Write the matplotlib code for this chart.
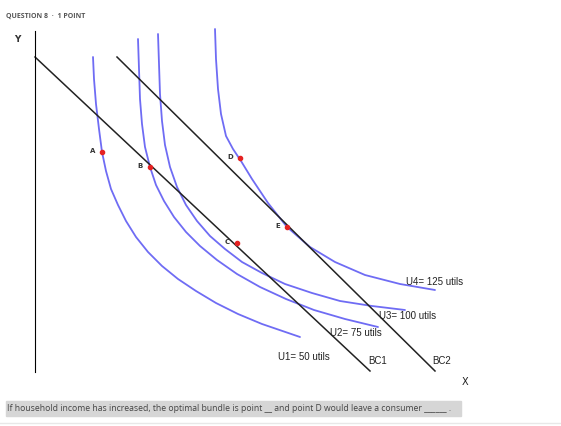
import matplotlib

matplotlib.use("Agg")
import matplotlib.pyplot as plt

# Coordinates (pixel space, y grows downward)
u1_x = [93, 94, 96, 99, 102, 106, 111, 118, 126, 136, 148, 162, 178, 196, 216, 238, 262, 300]
u1_y = [58, 80, 105, 130, 153, 172, 190, 206, 222, 238, 253, 267, 280, 292, 304, 315, 325, 338]
u2_x = [138, 139, 140, 142, 145, 150, 156, 164, 174, 186, 200, 217, 237, 260, 286, 314, 345, 378]
u2_y = [40, 70, 100, 125, 148, 168, 186, 202, 218, 233, 247, 261, 275, 288, 300, 311, 320, 328]
u3_x = [158, 159, 160, 162, 165, 170, 177, 186, 197, 210, 225, 242, 262, 285, 312, 340, 372, 405]
u3_y = [35, 65, 95, 122, 146, 168, 188, 206, 222, 237, 250, 263, 274, 285, 294, 302, 307, 311]
u4_x = [215, 216, 218, 221, 226, 233, 241, 252, 268, 287, 310, 335, 365, 400, 435]
u4_y = [30, 60, 90, 115, 137, 150, 162, 180, 204, 228, 248, 263, 276, 285, 291]
bc1_x = [35, 370]
bc1_y = [58, 372]
bc2_x = [117, 435]
bc2_y = [58, 372]
pt_names = ["A", "B", "C", "D", "E"]
pt_x = [102, 150, 237, 240, 287]
pt_y = [153, 168, 244, 159, 228]
curve_labels = ["U1= 50 utils", "U2= 75 utils", "U3= 100 utils", "U4= 125 utils", "BC1", "BC2"]
label_x = [278, 330, 379, 406, 368, 432]
label_y = [357, 333, 316, 282, 361, 361]

fig = plt.figure(figsize=(5.61, 4.27), dpi=100)
ax = fig.add_axes([0, 0, 1, 1])
ax.set_xlim(0, 561)
ax.set_ylim(427, 0)
ax.axis("off")

blue = "#6f6cf4"
for xs, ys in [(u1_x, u1_y), (u2_x, u2_y), (u3_x, u3_y), (u4_x, u4_y)]:
    ax.plot(xs, ys, color=blue, lw=1.3, solid_capstyle="round", solid_joinstyle="round")
ax.plot(bc1_x, bc1_y, color="#222222", lw=1.1)
ax.plot(bc2_x, bc2_y, color="#222222", lw=1.1)

ax.plot([35, 35], [32, 373], color="black", lw=0.8)
ax.text(14, 42, "Y", fontsize=6.5, fontweight="bold", color="#333333")
ax.text(462, 385, "X", fontsize=7, color="#222222")

ax.scatter(pt_x, pt_y, s=9, color="#e52222", zorder=5)
for name, x, y in zip(pt_names, pt_x, pt_y):
    ax.text(x - 7, y - 2, name, fontsize=5, fontweight="bold", ha="right", va="center", color="#333333")

for lab, x, y in zip(curve_labels, label_x, label_y):
    ax.text(x, y, lab, fontsize=7, va="center", family="Liberation Sans", color="#222222")

ax.text(6, 16, "QUESTION 8  ·  1 POINT", fontsize=5, fontweight="bold", color="#555555", va="center",
        family="Open Sans")
ax.axhspan(402, 417, xmin=6 / 561, xmax=461 / 561, color="#d6d6d6")
ax.text(7, 409, "If household income has increased, the optimal bundle is point __ and point D would leave a consumer ______ .",
        fontsize=6.2, va="center", color="#444444", family="Open Sans")
ax.plot([0, 561], [424, 424], color="#e8e8e8", lw=1)

fig.savefig("out.png", dpi=100)
